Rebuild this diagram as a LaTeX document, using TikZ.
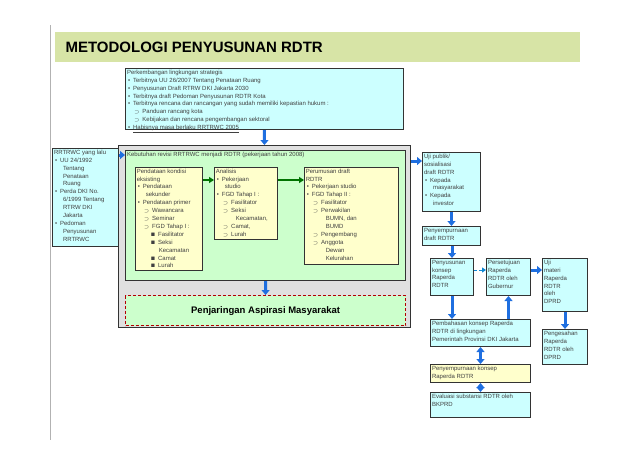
\documentclass[tikz,border=0pt]{standalone}
\usepackage{fontspec}
\setmainfont{Liberation Sans}
\usepackage{amssymb}
\usetikzlibrary{positioning,arrows.meta}
\definecolor{cyanbox}{HTML}{CCFFFF}
\definecolor{greenbox}{HTML}{CCFFCC}
\definecolor{yellowbox}{HTML}{FFFFCC}
\definecolor{titlebar}{HTML}{D7E4A6}
\definecolor{flowblue}{HTML}{1F6FE0}
\newcommand{\bu}{\hspace*{1pt}\textbullet\hspace{3pt}}
\newcommand{\ci}{\hspace*{7pt}{\fontsize{4}{5}\selectfont$\supset$}\hspace{3pt}}
\newcommand{\sq}{\hspace*{14pt}{\fontsize{4}{5}\selectfont$\blacksquare$}\hspace{3pt}}
\newcommand{\ind}[1]{\hspace*{#1pt}}
\newcommand{\pb}[3]{\parbox[t][#2pt][t]{#1pt}{\raggedright #3}}
\begin{document}
\begin{tikzpicture}[x=1pt,y=-1pt,
  box/.style={draw=black!80, line width=1pt, anchor=north west, align=left,
    font=\fontsize{6}{7.9}\selectfont, inner sep=1.5pt, text=black!75},
  cbox/.style={box, fill=cyanbox},
  ybox/.style={box, fill=yellowbox, line width=0.6pt},
  flow/.style={-{Triangle[width=8pt,length=5pt]}, line width=3pt, flowblue},
  both/.style={{Triangle[width=8pt,length=5pt]}-{Triangle[width=8pt,length=5pt]}, line width=3pt, flowblue},
  stage/.style={-{Triangle[width=6pt,length=5pt]}, line width=1.8pt, green!45!black}]
\useasboundingbox (0,0) rectangle (638,451);
% title
\fill[titlebar] (55,32) rectangle (580,62);
\draw[black!30, line width=1pt] (50,25) -- (50,440);
\node[anchor=west, font=\bfseries\fontsize{15}{17}\selectfont] (title) at (62,47) {METODOLOGI PENYUSUNAN RDTR};
% top box
\node[cbox] (strategi) at (125,68) {\pb{275}{58}{Perkembangan lingkungan strategis\\
   \bu Terbitnya UU 26/2007 Tentang Penataan Ruang\\
   \bu Penyusunan Draft RTRW DKI Jakarta 2030\\
   \bu Terbitnya draft Pedoman Penyusunan RDTR Kota\\
   \bu Terbitnya rencana dan rancangan yang sudah memiliki kepastian hukum :\\
   \ci Panduan rancang kota\\
   \ci Kebijakan dan rencana pengembangan sektoral\\
   \bu \underline{Habisnya masa berlaku RRTRWC 2005}}};
% left box
\node[cbox] (lama) at (52,148) {\pb{63}{95}{RRTRWC yang lalu\\
   \bu UU 24/1992\\ \ind{9}Tentang\\ \ind{9}Penataan\\ \ind{9}Ruang\\
   \bu Perda DKI No.\\ \ind{9}6/1999 Tentang\\ \ind{9}RTRW DKI\\ \ind{9}Jakarta\\
   \bu Pedoman\\ \ind{9}Penyusunan\\ \ind{9}RRTRWC}};
% big grey box
\node[draw=black!80, fill=black!12, line width=0.8pt, anchor=north west,
  minimum width=292pt, minimum height=182pt] (kerja) at (118,145) {};
\node[box, fill=greenbox] (revisi) at (125,150) {\pb{277}{127}{Kebutuhan revisi RRTRWC menjadi RDTR (pekerjaan tahun 2008)}};
\node[ybox] (data) at (135,167) {\pb{64}{100}{Pendataan kondisi\\ eksisting\\
   \bu Pendataan\\ \ind{9}sekunder\\
   \bu Pendataan primer\\
   \ci Wawancara\\ \ci Seminar\\ \ci FGD Tahap I :\\
   \sq Fasilitator\\ \sq Seksi\\ \ind{22}Kecamatan\\ \sq Camat\\ \sq Lurah}};
\node[ybox] (analisis) at (214,167) {\pb{60}{69}{Analisis\\
   \bu Pekerjaan\\ \ind{9}studio\\
   \bu FGD Tahap I :\\
   \ci Fasilitator\\ \ci Seksi\\ \ind{20}Kecamatan,\\ \ci Camat,\\ \ci Lurah}};
\node[ybox] (rumus) at (304,167) {\pb{91}{94}{Perumusan draft\\ RDTR\\
   \bu Pekerjaan studio\\
   \bu FGD Tahap II :\\
   \ci Fasilitator\\ \ci Perwakilan\\ \ind{20}BUMN, dan\\ \ind{20}BUMD\\
   \ci Pengembang\\ \ci Anggota\\ \ind{20}Dewan\\ \ind{20}Kelurahan}};
\node[draw=red!70!black, densely dashed, line width=1.2pt, fill=greenbox, anchor=north west,
  minimum width=280pt, minimum height=30pt, font=\bfseries\fontsize{9.5}{11}\selectfont] (aspirasi) at (125,295)
  {Penjaringan Aspirasi Masyarakat};
% right column
\node[cbox] (uji) at (422,152) {\pb{55}{56}{Uji publik/\\ sosialisasi\\ draft RDTR\\ \bu Kepada\\ \ind{9}masyarakat\\ \bu Kepada\\ \ind{9}investor}};
\node[cbox] (sempurna) at (422,226) {\pb{55}{16}{Penyempurnaan\\ draft RDTR}};
\node[cbox] (konsep) at (430,258) {\pb{40}{34}{Penyusunan\\ konsep\\ Raperda\\ RDTR}};
\node[cbox] (setuju) at (486,258) {\pb{41}{34}{Persetujuan\\ Raperda\\ RDTR oleh\\ Gubernur}};
\node[cbox] (materi) at (542,258) {\pb{42}{50}{Uji\\ materi\\ Raperda\\ RDTR\\ oleh\\ DPRD}};
\node[cbox] (bahas) at (430,319) {\pb{97}{24}{Pembahasan konsep Raperda\\ RDTR di lingkungan\\ Pemerintah Provinsi DKI Jakarta}};
\node[cbox] (sah) at (542,329) {\pb{42}{32}{Pengesahan\\ Raperda\\ RDTR oleh\\ DPRD}};
\node[ybox, line width=1pt] (sempkonsep) at (430,364) {\pb{97}{15}{Penyempurnaan konsep\\ Raperda RDTR}};
\node[cbox] (evaluasi) at (430,392) {\pb{97}{22}{Evaluasi substansi RDTR oleh\\ BKPRD}};
% connectors
\draw[flow] (strategi) -- (kerja);
\draw[flow] (lama.north east) ++(0,7) coordinate (lamaout) -- (lamaout -| revisi.west);
\draw[flow] (revisi) -- (aspirasi);
\draw[stage] (data.north east) ++(0,13) coordinate (d1) -- (d1 -| analisis.west);
\draw[stage] (analisis.north east) ++(0,13) coordinate (a1) -- (a1 -| rumus.west);
\draw[flow] (kerja.east |- uji.north) ++(0,9) coordinate (k1) -- (k1 -| uji.west);
\draw[flow] (uji) -- (sempurna);
\draw[flow] (sempurna.south -| konsep.north) coordinate (s1) -- (konsep.north);
\draw[-{Triangle[width=5pt,length=4pt]}, densely dashed, cyan!70!blue, line width=0.8pt] (konsep.east |- setuju.north) ++(0,12) coordinate (p1) -- (p1 -| setuju.west);
\draw[flow] (setuju.east |- materi.north) ++(0,12) coordinate (p2) -- (p2 -| materi.west);
\draw[flow] (konsep) -- (konsep |- bahas.north);
\draw[flow] (bahas.north -| setuju) -- (setuju);
\draw[flow] (materi) -- (sah);
\draw[both] (bahas) -- (sempkonsep);
\draw[both] (sempkonsep) -- (evaluasi);
\end{tikzpicture}
\end{document}
